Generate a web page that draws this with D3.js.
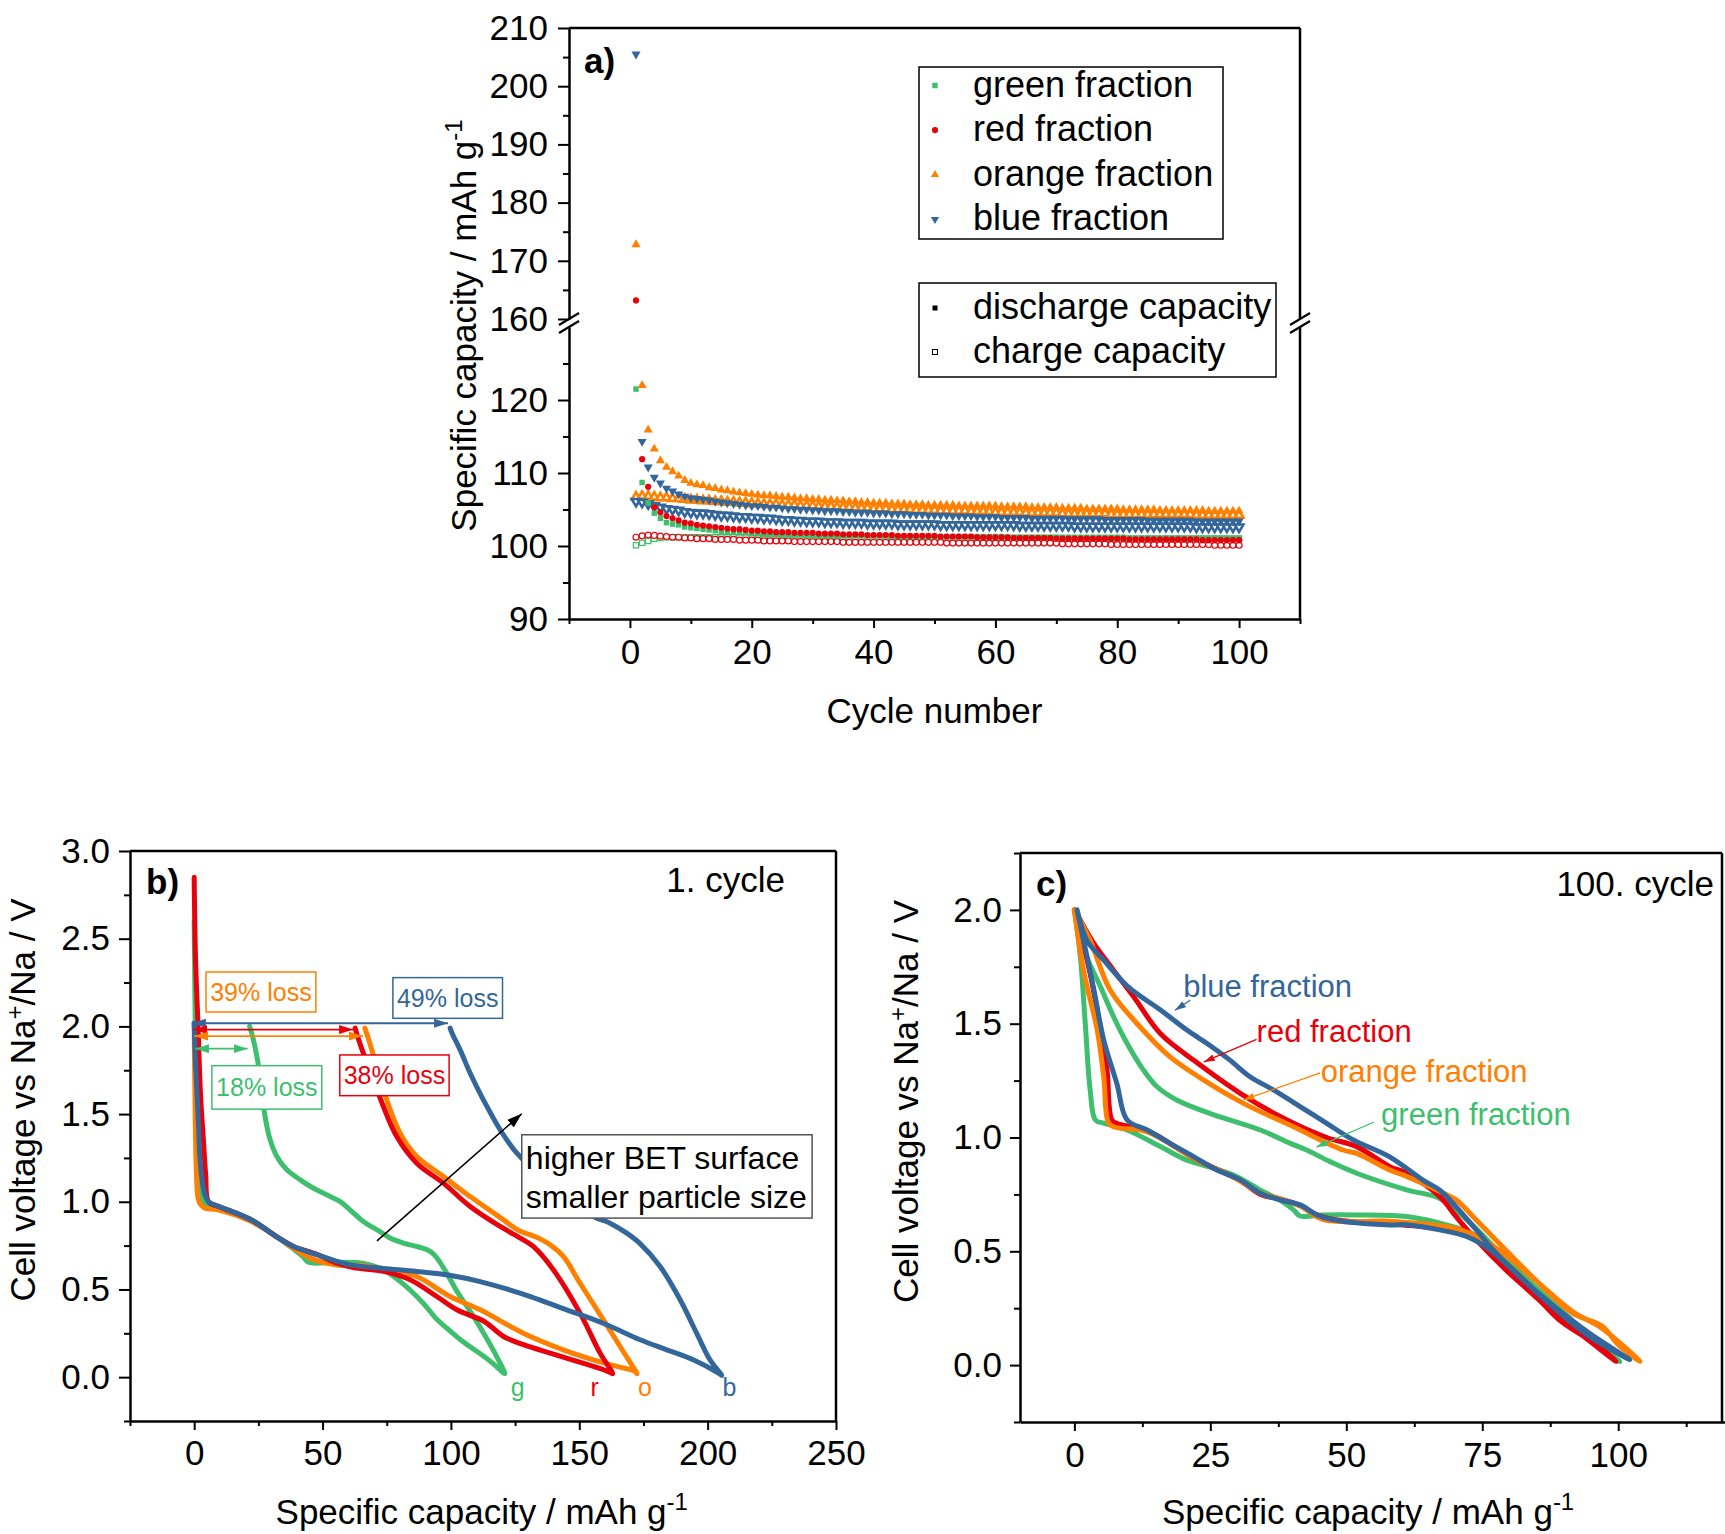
<!DOCTYPE html>
<html>
<head>
<meta charset="utf-8">
<script src="https://cdn.jsdelivr.net/npm/d3@7"></script>
<style>
  body { margin: 0; background: #fff; }
  svg text { font-family: "Liberation Sans", Arial, sans-serif; }
</style>
</head>
<body>
<script>

//----------------------------
// Data: a) cycling, cycles 1..100
//----------------------------

var cycles = d3.range(1, 101);

var greenDis = [
121.5,108.7,105.9,104.5,103.8,103.2,103.0,102.9,102.6,102.5,
102.4,102.3,102.2,102.1,102.0,102.0,101.9,101.8,101.8,101.7,
101.7,101.6,101.6,101.6,101.5,101.5,101.5,101.5,101.4,101.4,
101.4,101.4,101.4,101.4,101.4,101.4,101.4,101.4,101.4,101.4,
101.4,101.4,101.3,101.3,101.3,101.3,101.3,101.3,101.3,101.3,
101.3,101.3,101.3,101.3,101.3,101.3,101.3,101.3,101.3,101.3,
101.3,101.2,101.2,101.2,101.2,101.2,101.2,101.2,101.2,101.2,
101.2,101.2,101.2,101.2,101.2,101.2,101.2,101.2,101.2,101.2,
101.2,101.1,101.1,101.1,101.1,101.1,101.1,101.1,101.1,101.1,
101.1,101.1,101.1,101.1,101.1,101.1,101.1,101.1,101.1,101.1];

var greenCha = [
100.1,100.45,100.7,101.0,101.1,101.2,101.2,101.2,101.2,101.2,
101.2,101.2,101.2,101.2,101.2,101.2,101.2,101.2,101.2,101.2,
101.2,101.2,101.2,101.2,101.2,101.2,101.2,101.2,101.2,101.2,
101.1,101.1,101.1,101.1,101.1,101.1,101.1,101.1,101.1,101.1,
101.1,101.1,101.1,101.1,101.1,101.1,101.1,101.1,101.1,101.1,
101.1,101.1,101.1,101.1,101.1,101.1,101.1,101.1,101.1,101.1,
101.1,101.1,101.1,101.1,101.1,101.1,101.1,101.1,101.1,101.1,
101.0,101.0,101.0,101.0,101.0,101.0,101.0,101.0,101.0,101.0,
101.0,101.0,101.0,101.0,101.0,101.0,101.0,101.0,101.0,101.0,
101.0,101.0,101.0,101.0,101.0,101.0,101.0,101.0,101.0,101.0];

var redDis = [
163.2,111.9,108.1,105.3,104.6,104.1,103.8,103.5,103.2,103.1,
102.9,102.8,102.7,102.6,102.5,102.4,102.3,102.3,102.2,102.1,
102.1,102.0,102.0,101.9,101.9,101.9,101.8,101.8,101.8,101.8,
101.7,101.7,101.7,101.7,101.6,101.6,101.6,101.6,101.5,101.5,
101.5,101.5,101.5,101.4,101.4,101.4,101.4,101.4,101.4,101.4,
101.3,101.3,101.3,101.3,101.3,101.3,101.2,101.2,101.2,101.2,
101.2,101.2,101.1,101.1,101.1,101.1,101.1,101.1,101.1,101.0,
101.0,101.0,101.0,101.0,101.0,101.0,101.0,101.0,101.0,101.0,
101.0,100.9,100.9,100.9,100.9,100.9,100.9,100.9,100.9,100.9,
100.9,100.9,100.9,100.8,100.8,100.8,100.8,100.8,100.8,100.8];

var redCha = [
101.2,101.4,101.5,101.45,101.35,101.3,101.2,101.2,101.1,101.1,
101.0,101.0,101.0,100.9,100.9,100.9,100.9,100.8,100.8,100.8,
100.8,100.7,100.7,100.7,100.7,100.7,100.6,100.6,100.6,100.6,
100.6,100.6,100.6,100.6,100.5,100.5,100.5,100.5,100.5,100.5,
100.5,100.5,100.5,100.5,100.5,100.5,100.5,100.5,100.5,100.5,
100.5,100.4,100.4,100.4,100.4,100.4,100.4,100.4,100.4,100.4,
100.4,100.4,100.4,100.4,100.4,100.4,100.4,100.4,100.4,100.4,
100.3,100.3,100.3,100.3,100.3,100.3,100.3,100.3,100.2,100.2,
100.2,100.2,100.2,100.2,100.2,100.2,100.2,100.2,100.2,100.2,
100.2,100.2,100.2,100.2,100.2,100.1,100.1,100.1,100.1,100.1];

var orangeDis = [
172.8,122.0,115.9,113.3,111.7,110.8,110.2,109.6,109.0,108.6,
108.4,108.3,108.0,107.9,107.7,107.6,107.4,107.3,107.2,107.1,
107.0,106.9,106.9,106.8,106.7,106.7,106.6,106.5,106.5,106.4,
106.4,106.3,106.3,106.2,106.2,106.1,106.1,106.0,106.0,105.9,
105.9,105.9,105.8,105.8,105.8,105.7,105.7,105.7,105.6,105.6,
105.6,105.6,105.6,105.5,105.5,105.5,105.5,105.5,105.5,105.5,
105.4,105.4,105.4,105.4,105.4,105.3,105.3,105.3,105.3,105.3,
105.2,105.2,105.2,105.2,105.1,105.1,105.1,105.1,105.1,105.1,
105.0,105.0,105.0,105.0,105.0,105.0,104.9,104.9,104.9,104.9,
104.9,104.9,104.9,104.9,104.8,104.8,104.8,104.8,104.8,104.8];

var orangeCha = [
106.7,106.8,106.8,106.7,106.6,106.6,106.5,106.5,106.4,106.3,
106.3,106.2,106.2,106.1,106.1,106.0,106.0,105.9,105.9,105.8,
105.8,105.7,105.7,105.7,105.6,105.6,105.6,105.5,105.5,105.5,
105.4,105.4,105.4,105.3,105.3,105.3,105.2,105.2,105.2,105.1,
105.1,105.1,105.0,105.0,105.0,105.0,104.9,104.9,104.9,104.9,
104.8,104.8,104.8,104.8,104.8,104.7,104.7,104.7,104.7,104.6,
104.6,104.6,104.6,104.6,104.5,104.5,104.5,104.5,104.5,104.5,
104.4,104.4,104.4,104.4,104.4,104.4,104.4,104.4,104.3,104.3,
104.3,104.3,104.3,104.3,104.3,104.3,104.3,104.3,104.3,104.3,
104.3,104.3,104.2,104.2,104.2,104.2,104.2,104.2,104.2,104.2];

var blueDis = [
205.5,114.3,110.8,109.4,108.6,107.9,107.5,107.1,106.8,106.6,
106.5,106.4,106.3,106.1,106.0,105.9,105.8,105.7,105.6,105.5,
105.5,105.4,105.3,105.3,105.2,105.1,105.1,105.0,105.0,104.9,
104.9,104.8,104.8,104.8,104.7,104.7,104.6,104.6,104.6,104.5,
104.5,104.5,104.4,104.4,104.4,104.3,104.3,104.3,104.2,104.2,
104.2,104.2,104.1,104.1,104.1,104.1,104.0,104.0,104.0,104.0,
103.9,103.9,103.9,103.9,103.9,103.8,103.8,103.8,103.8,103.8,
103.8,103.7,103.7,103.7,103.7,103.7,103.7,103.6,103.6,103.6,
103.6,103.6,103.6,103.6,103.5,103.5,103.5,103.5,103.5,103.5,
103.5,103.5,103.4,103.4,103.4,103.4,103.4,103.4,103.4,103.4];

var blueCha = [
106.1,106.0,105.8,105.5,105.3,105.1,105.0,104.9,104.7,104.6,
104.5,104.5,104.4,104.3,104.2,104.2,104.1,104.0,104.0,103.9,
103.9,103.8,103.8,103.7,103.6,103.6,103.5,103.5,103.4,103.4,
103.4,103.3,103.3,103.3,103.2,103.2,103.2,103.2,103.1,103.1,
103.1,103.1,103.1,103.0,103.0,103.0,103.0,103.0,103.0,103.0,
102.9,102.9,102.9,102.9,102.9,102.9,102.9,102.9,102.9,102.9,
102.9,102.9,102.9,102.8,102.8,102.8,102.8,102.8,102.8,102.8,
102.8,102.8,102.7,102.7,102.7,102.7,102.7,102.7,102.7,102.7,
102.7,102.7,102.7,102.7,102.7,102.7,102.7,102.7,102.7,102.7,
102.7,102.7,102.6,102.6,102.6,102.6,102.6,102.6,102.6,102.6];

//----------------------------
// Data: b) 1. cycle, [capacity, voltage], discharge then charge
//----------------------------

var bGreen = [[0,2.6],[0.2,2.3],[0.4,2.02],[1.0,1.6],[1.8,1.25],[2.6,1.05],[3.8,0.99],[5.6,0.985],
  [10.8,0.965],[21.8,0.9],[32.2,0.8],[38.7,0.73],[42.5,0.685],[44.5,0.655],[55.6,0.655],[66,0.648],
  [73.7,0.612],[81.5,0.53],[89.3,0.42],[94.5,0.33],[100,0.26],[104.9,0.2],[112.7,0.12],[117,0.07],
  [120,0.03],[121,0.02],
  [118.5,0.099],[113.5,0.232],[108,0.365],[102.8,0.479],[97.6,0.612],[93.6,0.697],[90.8,0.726],
  [86.7,0.745],[81.5,0.764],[76.3,0.793],[72.4,0.83],[65.9,0.887],[60.7,0.954],[56.9,1.001],
  [53.0,1.03],[46.5,1.077],[41.3,1.125],[36.1,1.182],[32.2,1.258],[29.6,1.353],[27.6,1.486],
  [26.3,1.638],[25.1,1.771],[23.1,1.922],[21.6,2.0]];

var bOrange = [[0,2.02],[0.3,1.6],[0.8,1.2],[1.5,1.02],[2.3,0.99],[4,0.965],[8.8,0.955],[21.8,0.89],
  [32.2,0.8],[38.7,0.735],[45,0.68],[50,0.655],[55.6,0.64],[66,0.635],[76,0.61],[86.7,0.574],
  [99.7,0.46],[111.4,0.384],[128.2,0.251],[143.8,0.156],[155.5,0.099],[165,0.06],[171.7,0.033],[172.5,0.02],
  [165.9,0.175],[159.4,0.327],[150.3,0.536],[143.8,0.688],[138.7,0.754],[133,0.8],[126,0.84],
  [120.5,0.897],[107.5,1.03],[97.1,1.144],[86.7,1.258],[80.2,1.391],[75.0,1.581],[71.1,1.771],
  [68.5,1.9],[66.5,1.99]];

var bRed = [[0,2.85],[0.5,2.4],[1.5,2.0],[2.5,1.6],[3.6,1.35],[4.5,1.15],[5.6,1.0],[10.1,0.97],
  [21.8,0.9],[32.2,0.8],[38.7,0.745],[47.8,0.7],[55.6,0.65],[62,0.625],[73.7,0.603],[84.1,0.555],
  [94.5,0.46],[102.3,0.384],[112.7,0.32],[120.5,0.232],[128.3,0.185],[138.7,0.137],[149.1,0.09],
  [158,0.05],[162,0.027],[163,0.02],
  [158.1,0.137],[150.3,0.365],[139.9,0.612],[132.1,0.745],[128.2,0.783],[119.2,0.859],[107.5,0.973],
  [97.1,1.106],[86.7,1.22],[78.9,1.372],[73.7,1.543],[69.8,1.695],[65.9,1.847],[63.5,1.95],[62.7,1.99]];

var bBlue = [[0,2.02],[0.5,1.8],[1.5,1.5],[2.5,1.2],[4,1.05],[5.6,1.0],[10.1,0.97],[21.8,0.9],
  [32.2,0.8],[38.7,0.745],[47.8,0.698],[55.6,0.66],[60.8,0.64],[73.7,0.62],[86.7,0.603],[100,0.58],
  [111.4,0.545],[126.9,0.479],[145.1,0.384],[160.7,0.299],[173.7,0.213],[184.1,0.156],[194.4,0.099],
  [204.2,0.023],[205.5,0.01],
  [200.9,0.099],[195.7,0.251],[189.3,0.441],[181.5,0.631],[173.5,0.764],[168.5,0.821],[162.0,0.878],
  [155.5,0.916],[140,1.08],[125.7,1.277],[119.2,1.41],[112.7,1.58],[107.5,1.733],[103.6,1.866],
  [100.5,1.96],[99.7,1.99]];

//----------------------------
// Data: c) 100. cycle
//----------------------------

var cGreen = [[0,2.0],[1.1,1.793],[2.0,1.501],[2.9,1.209],[3.86,1.077],[5.4,1.063],[9.7,1.033],
  [15.8,0.96],[20.7,0.9],[25.6,0.865],[29.9,0.828],[34.2,0.769],[37.8,0.725],[40.3,0.682],[41.5,0.655],
  [45.8,0.66],[51.9,0.66],[61.1,0.653],[67.2,0.624],[71.5,0.594],[75.2,0.55],[78.5,0.47],[82.5,0.374],
  [89.9,0.213],[94.7,0.11],[100.3,0.016],
  [96,0.1],[90.5,0.22],[84,0.36],[78,0.5],[72.5,0.63],[67.1,0.733],[61.1,0.77],[51.9,0.843],
  [47.0,0.894],[42.7,0.945],[39.7,0.974],[34.2,1.033],[24.9,1.106],[18.8,1.165],[15.2,1.223],
  [12.7,1.296],[9.7,1.413],[7.2,1.531],[4.8,1.662],[2.3,1.793],[0.5,1.939],[0,2.0]];

var cRed = [[0,2.0],[2.9,1.72],[4.8,1.472],[6.0,1.296],[6.9,1.077],[8,1.06],[13.4,1.03],[21.9,0.91],
  [30.5,0.81],[34.2,0.75],[37.8,0.73],[41.5,0.7],[44.6,0.66],[47.6,0.64],[58,0.62],[67.2,0.6],
  [72.1,0.57],[75.2,0.535],[79.3,0.448],[84.5,0.33],[89.6,0.2],[94.5,0.11],[99.6,0.016],
  [96,0.09],[89.6,0.19],[85.4,0.287],[79.3,0.419],[73.9,0.55],[70.2,0.652],[67.2,0.74],[61.1,0.843],
  [58,0.872],[51.9,0.96],[46.4,1.0],[39.1,1.077],[30.5,1.194],[21.9,1.34],[15.8,1.457],[10.9,1.618],
  [7.2,1.735],[3.6,1.852],[0.5,1.98],[0,2.0]];

var cOrange = [[0,2.0],[1.8,1.72],[4.2,1.472],[5.4,1.267],[6.3,1.063],[7.5,1.045],[13.4,1.025],
  [21.9,0.91],[30.5,0.81],[34.2,0.755],[37.8,0.73],[41.5,0.7],[45.8,0.639],[58,0.632],[70.2,0.6],
  [75.2,0.55],[80,0.47],[85.4,0.36],[91.6,0.235],[97.1,0.16],[104,0.016],
  [100,0.09],[97.1,0.17],[91.6,0.228],[85.4,0.36],[79.3,0.506],[73.9,0.638],[70.2,0.726],[67.9,0.755],
  [61.1,0.829],[58,0.857],[51.9,0.93],[49.4,0.945],[40.3,1.047],[31.1,1.15],[23.8,1.252],[17.6,1.354],
  [11.5,1.501],[6.6,1.647],[2.9,1.866],[0,2.0]];

var cBlue = [[0.5,2.0],[3.6,1.647],[5.4,1.428],[7.8,1.238],[9.7,1.077],[13.4,1.033],[17.6,0.974],
  [21.9,0.916],[26.2,0.857],[30.5,0.814],[34.2,0.755],[37.8,0.726],[41.5,0.704],[44.6,0.66],
  [47.6,0.638],[58,0.616],[61.1,0.617],[67.2,0.594],[72.1,0.565],[76.4,0.507],[82.5,0.374],
  [88.6,0.25],[94.7,0.14],[102.1,0.024],
  [94.7,0.126],[88.6,0.243],[82.5,0.374],[77.6,0.491],[73.9,0.594],[70.2,0.695],[67.2,0.768],
  [64.0,0.814],[57.9,0.916],[51.3,0.989],[46.4,1.062],[41.5,1.136],[36.6,1.209],[32.3,1.267],
  [28.6,1.34],[24.4,1.413],[20.7,1.472],[15.9,1.559],[9.9,1.662],[5.4,1.779],[2.3,1.866],[0.5,2.0]];

var fractionNames = ["green fraction", "red fraction", "orange fraction", "blue fraction"];
var lossText = ["18% loss", "38% loss", "39% loss", "49% loss"];
var curveLetters = ["g", "r", "o", "b"];

//----------------------------
// Setup
//----------------------------

var totwidth = 1725, totheight = 1534;
var col = {green: "#3dbf6e", red: "#e8000b", orange: "#ff8000", blue: "#33669a"};
var fs = 35;

var svg = d3.select("body").append("svg")
	.attr("width", totwidth)
	.attr("height", totheight);

svg.append("rect").attr("width", totwidth).attr("height", totheight).attr("fill", "white");

var defs = svg.append("defs");

function arrowMarker(id, color, len, wid) {
	defs.append("marker")
		.attr("id", id)
		.attr("markerUnits", "userSpaceOnUse")
		.attr("viewBox", "0 0 " + len + " " + wid)
		.attr("refX", len).attr("refY", wid / 2)
		.attr("markerWidth", len).attr("markerHeight", wid)
		.attr("orient", "auto-start-reverse")
	  .append("path")
		.attr("d", "M0,0L" + len + "," + (wid / 2) + "L0," + wid + "Z")
		.attr("fill", color);
}
["green", "red", "orange", "blue"].forEach(function(k) {
	arrowMarker("big-" + k, col[k], 14, 9);
	arrowMarker("small-" + k, col[k], 11, 7);
});
arrowMarker("big-black", "#000", 15, 10);

function styleAxis(g, size) {
	g.attr("font-family", null).attr("font-size", size);
	g.select(".domain").attr("stroke", "#000").attr("stroke-width", 2.5);
	g.selectAll(".tick line").attr("stroke", "#000").attr("stroke-width", 2);
	g.selectAll(".tick text").attr("fill", "#000");
}

function minorAxis(g, axis) {
	g.call(axis.tickFormat("").tickSizeOuter(0));
	g.select(".domain").remove();
	g.selectAll(".tick line").attr("stroke", "#000").attr("stroke-width", 2);
}

function supText(sel, parts, supSize, shift) {
	// parts: [normal, sup, normal]
	shift = shift || 14;
	sel.append("tspan").text(parts[0]);
	if (parts.length > 1) {
		sel.append("tspan").attr("dy", -shift).attr("font-size", supSize).text(parts[1]);
	}
	if (parts.length > 2) {
		sel.append("tspan").attr("dy", shift).text(parts[2]);
	}
}

//----------------------------
// Panel a) capacity vs cycle number
//----------------------------

var ax = d3.scaleLinear().domain([-10, 110]).range([569, 1300]);
var ayLo = d3.scaleLinear().domain([90, 130]).range([619, 327]);
var ayHi = d3.scaleLinear().domain([160, 210]).range([319, 28]);
function ay(v) { return v >= 160 ? ayHi(v) : ayLo(v); }

var ga = svg.append("g").attr("class", "panel-a");

// frame top and right (with break)
ga.append("line").attr("x1", ax(-10)).attr("x2", ax(110)).attr("y1", ayHi(210)).attr("y2", ayHi(210))
	.attr("stroke", "#000").attr("stroke-width", 2.5);
ga.append("line").attr("x1", ax(110)).attr("x2", ax(110)).attr("y1", ayHi(210)).attr("y2", ayHi(160))
	.attr("stroke", "#000").attr("stroke-width", 2.5);
ga.append("line").attr("x1", ax(110)).attr("x2", ax(110)).attr("y1", ayLo(130)).attr("y2", ayLo(90))
	.attr("stroke", "#000").attr("stroke-width", 2.5);

var gaxB = ga.append("g").attr("transform", "translate(0," + ayLo(90) + ")")
	.call(d3.axisBottom(ax).tickValues([0, 20, 40, 60, 80, 100]).tickSize(9).tickPadding(11).tickSizeOuter(0));
styleAxis(gaxB, fs);
ga.append("g").attr("transform", "translate(0," + ayLo(90) + ")")
	.call(function(g) { minorAxis(g, d3.axisBottom(ax).tickValues([-10, 10, 30, 50, 70, 90, 110]).tickSize(5)); });

[[ayLo, [90, 100, 110, 120], [95, 105, 115, 125]], [ayHi, [160, 170, 180, 190, 200, 210], [165, 175, 185, 195, 205]]]
	.forEach(function(s) {
		var g = ga.append("g").attr("transform", "translate(" + ax(-10) + ",0)")
			.call(d3.axisLeft(s[0]).tickValues(s[1]).tickSize(11).tickPadding(10).tickSizeOuter(0));
		styleAxis(g, fs);
		ga.append("g").attr("transform", "translate(" + ax(-10) + ",0)")
			.call(function(g2) { minorAxis(g2, d3.axisLeft(s[0]).tickValues(s[2]).tickSize(6)); });
	});

// axis break marks
[ax(-10), ax(110)].forEach(function(x) {
	[ayHi(160), ayLo(130)].forEach(function(y) {
		ga.append("line").attr("x1", x - 10).attr("y1", y + 6).attr("x2", x + 10).attr("y2", y - 6)
			.attr("stroke", "#000").attr("stroke-width", 2.2);
	});
});

// scatter series
var seriesA = [
	{vals: greenCha, color: col.green, type: d3.symbolSquare, size: 28, open: true, rot: 0},
	{vals: redCha, color: col.red, type: d3.symbolCircle, size: 28, open: true, rot: 0},
	{vals: orangeCha, color: col.orange, type: d3.symbolTriangle, size: 32, open: true, rot: 0},
	{vals: blueCha, color: col.blue, type: d3.symbolTriangle, size: 32, open: true, rot: 180},
	{vals: greenDis, color: col.green, type: d3.symbolSquare, size: 30, open: false, rot: 0},
	{vals: redDis, color: col.red, type: d3.symbolCircle, size: 30, open: false, rot: 0},
	{vals: orangeDis, color: col.orange, type: d3.symbolTriangle, size: 36, open: false, rot: 0},
	{vals: blueDis, color: col.blue, type: d3.symbolTriangle, size: 36, open: false, rot: 180}
];

seriesA.forEach(function(s) {
	var sym = d3.symbol().type(s.type).size(s.size);
	ga.append("g").selectAll("path").data(cycles).enter().append("path")
		.attr("d", sym)
		.attr("transform", function(c, i) { return "translate(" + ax(c) + "," + ay(s.vals[i]) + ") rotate(" + s.rot + ")"; })
		.attr("fill", s.open ? "white" : s.color)
		.attr("stroke", s.open ? s.color : "none")
		.attr("stroke-width", s.open ? (s.type === d3.symbolTriangle ? 2.6 : 1.2) : 0);
});

// labels
ga.append("text").attr("x", ax(-10) + 15).attr("y", ayHi(210) + 45)
	.attr("font-size", fs).attr("font-weight", "bold").text("a)");

ga.append("text").attr("x", ax(50)).attr("y", ayLo(90) + 104)
	.attr("font-size", fs).attr("text-anchor", "middle").text("Cycle number");

var aylab = ga.append("text").attr("transform", "translate(476," + ((ayHi(210) + ayLo(90)) / 2 + 2) + ") rotate(-90)")
	.attr("font-size", fs).attr("text-anchor", "middle");
supText(aylab, ["Specific capacity / mAh g", "-1"], 24);

// legend 1: fractions
var legCols = [col.green, col.red, col.orange, col.blue];
var legTypes = [d3.symbolSquare, d3.symbolCircle, d3.symbolTriangle, d3.symbolTriangle];
var legRot = [0, 0, 0, 180];
ga.append("rect").attr("x", 919).attr("y", 67).attr("width", 304).attr("height", 172)
	.attr("fill", "white").attr("stroke", "#000").attr("stroke-width", 1.5);
fractionNames.forEach(function(name, i) {
	var y = 85.5 + i * 44.6;
	ga.append("path").attr("d", d3.symbol().type(legTypes[i]).size(30))
		.attr("transform", "translate(935," + y + ") rotate(" + legRot[i] + ")")
		.attr("fill", legCols[i]);
	ga.append("text").attr("x", 973).attr("y", y + 11).attr("font-size", 36).text(name);
});

// legend 2: discharge / charge
ga.append("rect").attr("x", 919).attr("y", 283).attr("width", 357).attr("height", 94)
	.attr("fill", "white").attr("stroke", "#000").attr("stroke-width", 1.5);
ga.append("rect").attr("x", 932.5).attr("y", 305.5).attr("width", 5).attr("height", 5).attr("fill", "#000");
ga.append("text").attr("x", 973).attr("y", 319).attr("font-size", 36).text("discharge capacity");
ga.append("rect").attr("x", 932.5).attr("y", 349.5).attr("width", 5).attr("height", 5)
	.attr("fill", "white").attr("stroke", "#000").attr("stroke-width", 1);
ga.append("text").attr("x", 973).attr("y", 363).attr("font-size", 36).text("charge capacity");

//----------------------------
// Shared frame for b) and c)
//----------------------------

function framedAxes(g, xs, ys, o) {
	var x0 = xs.range()[0], x1 = Math.min(xs.range()[1], 1722);
	var y0 = ys.range()[0], y1 = ys.range()[1];
	g.append("line").attr("x1", x0).attr("x2", x1).attr("y1", y1).attr("y2", y1)
		.attr("stroke", "#000").attr("stroke-width", 2.5);
	g.append("line").attr("x1", x1).attr("x2", x1).attr("y1", y1).attr("y2", y0)
		.attr("stroke", "#000").attr("stroke-width", 2.5);

	var gx = g.append("g").attr("transform", "translate(0," + y0 + ")")
		.call(d3.axisBottom(xs).tickValues(o.xMajor).tickSize(9).tickPadding(o.xPad).tickSizeOuter(0));
	styleAxis(gx, fs);
	g.append("g").attr("transform", "translate(0," + y0 + ")")
		.call(function(gg) { minorAxis(gg, d3.axisBottom(xs).tickValues(o.xMinor).tickSize(5)); });

	var gy = g.append("g").attr("transform", "translate(" + x0 + ",0)")
		.call(d3.axisLeft(ys).tickValues(o.yMajor).tickSize(o.yTick).tickPadding(o.yPad)
			.tickFormat(d3.format(".1f")).tickSizeOuter(0));
	styleAxis(gy, fs);
	g.append("g").attr("transform", "translate(" + x0 + ",0)")
		.call(function(gg) { minorAxis(gg, d3.axisLeft(ys).tickValues(o.yMinor).tickSize(6)); });
}

var lineGen = function(xs, ys) {
	return d3.line()
		.x(function(d) { return xs(d[0]); })
		.y(function(d) { return ys(d[1]); })
		.curve(d3.curveCatmullRom.alpha(0.5));
};

function drawCurves(g, xs, ys, curves) {
	var lf = lineGen(xs, ys);
	curves.forEach(function(c) {
		g.append("path").datum(c.pts)
			.attr("d", lf)
			.attr("fill", "none")
			.attr("stroke", c.color)
			.attr("stroke-width", 5)
			.attr("stroke-linejoin", "round")
			.attr("stroke-linecap", "round");
	});
}

//----------------------------
// Panel b) 1. cycle
//----------------------------

var bx = d3.scaleLinear().domain([-25, 250]).range([130, 836]);
var by = d3.scaleLinear().domain([-0.25, 3.0]).range([1421, 851]);
var gb = svg.append("g").attr("class", "panel-b");

framedAxes(gb, bx, by, {
	xMajor: [0, 50, 100, 150, 200, 250], xMinor: [-25, 25, 75, 125, 175, 225], xPad: 10,
	yMajor: [0, 0.5, 1.0, 1.5, 2.0, 2.5, 3.0], yMinor: [-0.25, 0.25, 0.75, 1.25, 1.75, 2.25, 2.75],
	yTick: 11, yPad: 9
});

drawCurves(gb, bx, by, [
	{pts: bGreen, color: col.green},
	{pts: bOrange, color: col.orange},
	{pts: bRed, color: col.red},
	{pts: bBlue, color: col.blue}
]);

// loss arrows: from 0 to the irreversible capacity (end of each charge curve)
var lossArrows = [
	{curve: bBlue, key: "blue", v: 2.018, x0: -0.9},
	{curve: bRed, key: "red", v: 1.982, x0: -0.3},
	{curve: bOrange, key: "orange", v: 1.945, x0: 0},
	{curve: bGreen, key: "green", v: 1.873, x0: 0.3}
];
lossArrows.forEach(function(a) {
	var xEnd = a.curve[a.curve.length - 1][0] - 0.8;
	gb.append("line")
		.attr("x1", bx(a.x0)).attr("x2", bx(xEnd)).attr("y1", by(a.v)).attr("y2", by(a.v))
		.attr("stroke", col[a.key]).attr("stroke-width", 1.8)
		.attr("marker-start", "url(#big-" + a.key + ")")
		.attr("marker-end", "url(#big-" + a.key + ")");
});

// loss boxes [x0, x1, yTop, yBottom] in data units
var lossBoxes = [
	{txt: lossText[2], key: "orange", b: [4.6, 47.4, 2.31, 2.082]},
	{txt: lossText[3], key: "blue", b: [77.4, 120.1, 2.278, 2.046]},
	{txt: lossText[0], key: "green", b: [6.9, 49.7, 1.776, 1.528]},
	{txt: lossText[1], key: "red", b: [56.7, 99.3, 1.837, 1.605]}
];
lossBoxes.forEach(function(l) {
	var x0 = bx(l.b[0]), x1 = bx(l.b[1]), y0 = by(l.b[2]), y1 = by(l.b[3]);
	gb.append("rect").attr("x", x0).attr("y", y0).attr("width", x1 - x0).attr("height", y1 - y0)
		.attr("fill", "white").attr("stroke", col[l.key]).attr("stroke-width", 1.5);
	gb.append("text").attr("x", (x0 + x1) / 2).attr("y", (y0 + y1) / 2 + 9)
		.attr("text-anchor", "middle").attr("font-size", 25).attr("fill", col[l.key]).text(l.txt);
});

// trend arrow and box
gb.append("line").attr("x1", bx(71.2)).attr("y1", by(0.777)).attr("x2", bx(127.6)).attr("y2", by(1.502))
	.attr("stroke", "#000").attr("stroke-width", 1.6).attr("marker-end", "url(#big-black)");
gb.append("rect").attr("x", bx(127.6)).attr("y", by(1.382))
	.attr("width", bx(240.7) - bx(127.6)).attr("height", by(0.907) - by(1.382))
	.attr("fill", "white").attr("stroke", "#555").attr("stroke-width", 1.5);
gb.append("text").attr("x", bx(129.2)).attr("y", by(1.185)).attr("font-size", 32).text("higher BET surface");
gb.append("text").attr("x", bx(129.2)).attr("y", by(0.962)).attr("font-size", 32).text("smaller particle size");

// curve end letters
var letterAt = [126, 156, 175.6, 208.5];
["green", "red", "orange", "blue"].forEach(function(k, i) {
	gb.append("text").attr("x", bx(letterAt[i])).attr("y", by(-0.11))
		.attr("text-anchor", "middle").attr("font-size", 25).attr("fill", col[k]).text(curveLetters[i]);
});

gb.append("text").attr("x", bx(-25) + 16).attr("y", by(3.0) + 43)
	.attr("font-size", fs).attr("font-weight", "bold").text("b)");
gb.append("text").attr("x", 785).attr("y", by(3.0) + 41)
	.attr("font-size", fs).attr("text-anchor", "end").text("1. cycle");

var bxlab = gb.append("text").attr("x", bx(112)).attr("y", 1524)
	.attr("font-size", fs).attr("text-anchor", "middle");
supText(bxlab, ["Specific capacity / mAh g", "-1"], 24);

var bylab = gb.append("text").attr("transform", "translate(35," + ((by(-0.25) + by(3.0)) / 2 - 36) + ") rotate(-90)")
	.attr("font-size", fs).attr("text-anchor", "middle");
supText(bylab, ["Cell voltage vs Na", "+", "/Na / V"], 24, 12);

//----------------------------
// Panel c) 100. cycle
//----------------------------

var cx = d3.scaleLinear().domain([-10, 120]).range([1020, 1727]);
var cy = d3.scaleLinear().domain([-0.25, 2.25]).range([1422, 853]);
var gc = svg.append("g").attr("class", "panel-c");

framedAxes(gc, cx, cy, {
	xMajor: [0, 25, 50, 75, 100], xMinor: [12.5, 37.5, 62.5, 87.5, 112.5], xPad: 11,
	yMajor: [0, 0.5, 1.0, 1.5, 2.0], yMinor: [-0.25, 0.25, 0.75, 1.25, 1.75, 2.25],
	yTick: 10, yPad: 8
});

drawCurves(gc, cx, cy, [
	{pts: cGreen, color: col.green},
	{pts: cRed, color: col.red},
	{pts: cOrange, color: col.orange},
	{pts: cBlue, color: col.blue}
]);

// fraction labels with pointer arrows: text anchor and arrow [from, to] in data units
var cLabels = [
	{txt: fractionNames[3], key: "blue", at: [20.0, 1.616], from: [21.3, 1.603], to: [18.5, 1.559]},
	{txt: fractionNames[1], key: "red", at: [33.5, 1.419], from: [33.5, 1.431], to: [23.8, 1.332]},
	{txt: fractionNames[2], key: "orange", at: [45.3, 1.243], from: [45.2, 1.284], to: [31.1, 1.165]},
	{txt: fractionNames[0], key: "green", at: [56.4, 1.055], from: [55.1, 1.068], to: [44.5, 0.958]}
];
cLabels.forEach(function(l) {
	gc.append("line")
		.attr("x1", cx(l.from[0])).attr("y1", cy(l.from[1])).attr("x2", cx(l.to[0])).attr("y2", cy(l.to[1]))
		.attr("stroke", col[l.key]).attr("stroke-width", 1.3)
		.attr("marker-end", "url(#small-" + l.key + ")");
	gc.append("text").attr("x", cx(l.at[0])).attr("y", cy(l.at[1]))
		.attr("font-size", 31).attr("fill", col[l.key]).text(l.txt);
});

gc.append("text").attr("x", cx(-10) + 16).attr("y", cy(2.25) + 43)
	.attr("font-size", fs).attr("font-weight", "bold").text("c)");
gc.append("text").attr("x", 1714).attr("y", cy(2.25) + 43)
	.attr("font-size", fs).attr("text-anchor", "end").text("100. cycle");

var cxlab = gc.append("text").attr("x", cx(54)).attr("y", 1524)
	.attr("font-size", fs).attr("text-anchor", "middle");
supText(cxlab, ["Specific capacity / mAh g", "-1"], 24);

var cylab = gc.append("text").attr("transform", "translate(918," + ((cy(-0.25) + cy(2.25)) / 2 - 36) + ") rotate(-90)")
	.attr("font-size", fs).attr("text-anchor", "middle");
supText(cylab, ["Cell voltage vs Na", "+", "/Na / V"], 24, 12);

</script>
</body>
</html>
